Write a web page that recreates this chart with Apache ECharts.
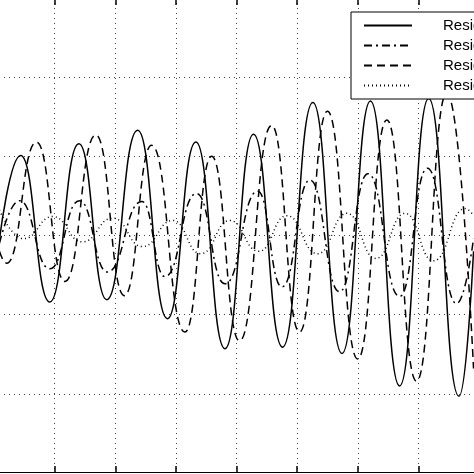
<!DOCTYPE html>
<html><head><meta charset="utf-8">
<script src="https://cdn.jsdelivr.net/npm/echarts@6/dist/echarts.min.js"></script>
<style>html,body{margin:0;padding:0;background:#fff;overflow:hidden;width:474px;height:474px}#c{position:absolute;left:-6px;top:-2px;width:485px;height:475px}</style>
</head><body><div id="c"></div>
<script>
const seriesNames = ['Residual 1','Residual 2','Residual 3','Residual 4'];
const solid = [[0.09,-0.05],[0.44,1.01],[0.92,-0.84],[1.40,1.16],[1.86,-0.81],[2.37,1.33],[2.86,-1.05],[3.33,1.18],[3.81,-1.43],[4.28,1.28],[4.76,-1.41],[5.26,1.68],[5.74,-1.49],[6.21,1.70],[6.69,-1.90],[7.17,1.73],[7.67,-2.03],[7.91,-0.2]];
const dashDot = [[0.09,-0.1],[0.42,0.44],[0.92,-0.42],[1.41,0.44],[1.87,-0.46],[2.44,0.43],[2.82,-0.52],[3.34,0.53],[3.81,-0.61],[4.35,0.56],[4.75,-0.65],[5.21,0.70],[5.70,-0.71],[6.17,0.78],[6.69,-0.77],[7.15,0.85],[7.63,-0.86],[7.91,-0.04]];
const dashed = [[0.09,-0.2],[0.21,-0.35],[0.70,1.18],[1.17,-0.58],[1.68,1.27],[2.15,-0.76],[2.60,1.14],[3.15,-1.22],[3.59,1.00],[4.05,-1.33],[4.58,1.39],[5.04,-1.22],[5.50,1.57],[6.00,-1.56],[6.48,1.46],[6.97,-1.84],[7.47,1.80],[7.91,-1.68]];
const dotted = [[0.09,0.32],[0.49,-0.04],[0.97,0.24],[1.46,-0.08],[1.96,0.22],[2.45,-0.14],[2.95,0.19],[3.41,-0.23],[3.89,0.19],[4.37,-0.20],[4.83,0.25],[5.34,-0.23],[5.82,0.28],[6.30,-0.29],[6.78,0.28],[7.25,-0.32],[7.77,0.34],[7.91,0.25]];
const chart = echarts.init(document.getElementById('c'));
const mk = (name, data, type) => ({name, type:'line', data, smooth:0.5, smoothMonotone:'x', showSymbol:false, symbol:'none',
  lineStyle:{color:'#000', width:1.5, type}, itemStyle:{color:'#000'}, z: 3});
const xBase = {type:'value', min:0, max:8, interval:1, axisLabel:{show:false},
    axisTick:{show:true, inside:true, length:7, lineStyle:{color:'#000', width:1.5}}};
chart.setOption({
  animation:false,
  grid:{left:0, right:0, top:0, bottom:0},
  xAxis:[Object.assign({}, xBase, {position:'bottom',
    axisLine:{show:true, onZero:false, lineStyle:{color:'#000', width:2}},
    splitLine:{show:true, lineStyle:{color:'#444', type:[1,4], width:1}}}),
    Object.assign({}, xBase, {position:'top', axisLine:{show:true, onZero:false, lineStyle:{color:'#000', width:1}}, splitLine:{show:false}})],
  yAxis:{type:'value', min:-3, max:3, interval:1, axisLabel:{show:false},
    axisLine:{show:false}, axisTick:{show:false},
    splitLine:{show:true, lineStyle:{color:'#444', type:[1,4], width:1}}},
  legend:{orient:'vertical', left:357, top:14, itemWidth:48, itemHeight:10, itemGap:5,
    backgroundColor:'#fff', borderColor:'#000', borderWidth:1, padding:[6,40,6,12],
    itemStyle:{opacity:0},
    textStyle:{fontFamily:'Liberation Sans', fontSize:15, color:'#000', padding:[0,0,0,26]},
    data:seriesNames},
  series:[mk(seriesNames[0],solid,'solid'), mk(seriesNames[1],dashDot,[8,4,2,4]),
          mk(seriesNames[2],dashed,[8,5]), mk(seriesNames[3],dotted,[1,3])]
});
</script></body></html>
